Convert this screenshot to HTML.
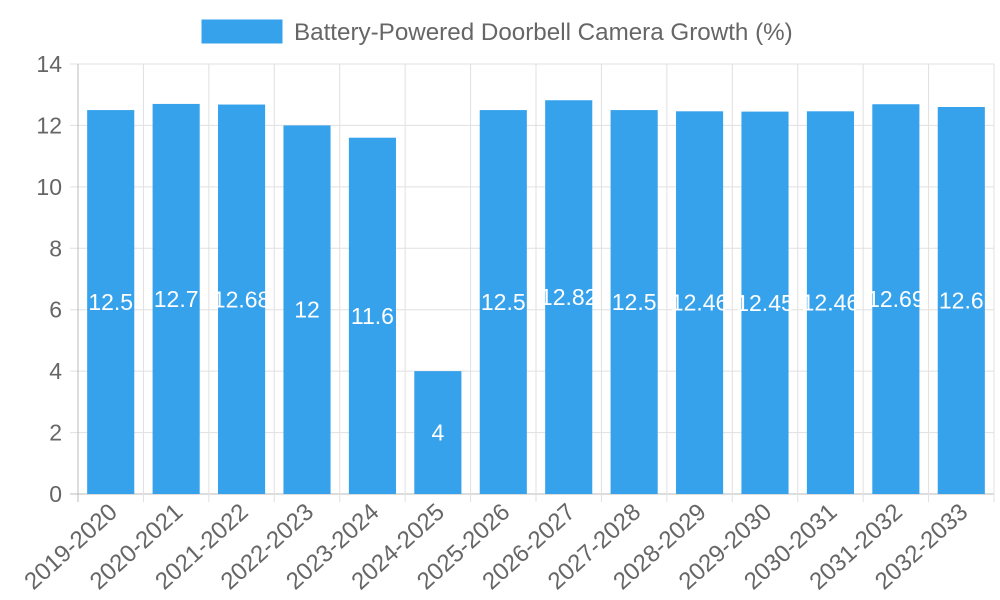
<!DOCTYPE html>
<html><head><meta charset="utf-8"><style>
html,body{margin:0;padding:0;background:#fff;}
svg{display:block;font-family:"Liberation Sans",sans-serif;}
</style></head><body>
<svg id="chart" width="1000" height="600" viewBox="0 0 1000 600">
<g>
<rect x="202" y="20" width="80" height="23" fill="#36a2eb" stroke="#36a2eb"/>
<text x="294" y="40" font-size="24.2" fill="#666">Battery-Powered Doorbell Camera Growth (%)</text>
</g>
<g id="grid"></g>
<g id="bars"></g>
<g id="axes"></g>
</svg>
<script>
const categories=["2019-2020","2020-2021","2021-2022","2022-2023","2023-2024","2024-2025","2025-2026","2026-2027","2027-2028","2028-2029","2029-2030","2030-2031","2031-2032","2032-2033"];
const values=[12.5,12.7,12.68,12,11.6,4,12.5,12.82,12.5,12.46,12.45,12.46,12.69,12.6];
const yTicks=[0,2,4,6,8,10,12,14];
const NS="http://www.w3.org/2000/svg";
const L=78,R=994,T=64,B=494,yMax=14;
const bw=(R-L)/categories.length;
const x=i=>L+bw*i;
const y=v=>B-(v/yMax)*(B-T);
function mk(tag,attrs,parent){const e=document.createElementNS(NS,tag);for(const k in attrs)e.setAttribute(k,attrs[k]);parent.appendChild(e);return e;}
const grid=document.getElementById('grid'),bars=document.getElementById('bars'),axes=document.getElementById('axes');
yTicks.forEach(t=>{
 const ln=mk('line',{x1:70,x2:R,y1:y(t),y2:y(t),stroke:t===0?'#bbb':'#e0e0e0','stroke-width':1},grid);
 
 
 const tx=mk('text',{x:62,y:y(t)+8,'text-anchor':'end','font-size':23,fill:'#666'},axes);
 tx.textContent=t;
 
 
});
for(let i=0;i<=categories.length;i++){
 const ln=mk('line',{x1:x(i),x2:x(i),y1:T,y2:B+8,stroke:i===0?'#bbb':'#e0e0e0','stroke-width':1},grid);
 
 
}
categories.forEach((c,i)=>{
 const w=bw*0.72, bx=x(i)+(bw-w)/2;
 const r=mk('rect',{x:bx,y:y(values[i]),width:w,height:B-y(values[i]),fill:'#36a2eb'},bars);
 
 
 const lb=mk('text',{x:x(i)+bw/2,y:y(values[i]/2)+8,'text-anchor':'middle','font-size':23,fill:'#fff'},bars);
 lb.textContent=values[i];
 
 
 const cx=x(i)+bw/2+8, cy=B+20;
 const xl=mk('text',{x:cx,y:cy,'text-anchor':'end','font-size':24,fill:'#666',transform:`rotate(-42 ${cx} ${cy})`},axes);
 xl.textContent=c;
 
 
});
</script>
</body></html>
